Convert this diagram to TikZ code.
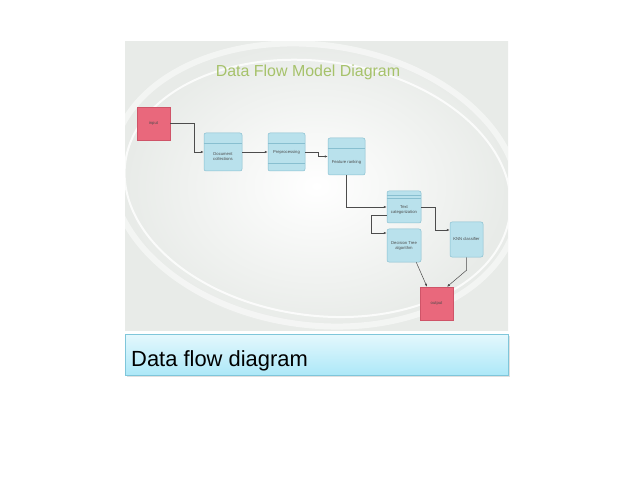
\documentclass[tikz,border=0pt]{standalone}
\usepackage{fontspec}
\setmainfont{Liberation Sans}
\usetikzlibrary{arrows.meta,shadows,calc}
\definecolor{slidegray}{HTML}{E8EBE8}
\definecolor{boxfill}{HTML}{B9E1EC}
\definecolor{boxedge}{HTML}{88BFD0}
\definecolor{iofill}{HTML}{E9687C}
\definecolor{ioedge}{HTML}{CF5468}
\definecolor{titlec}{HTML}{A6C26A}
\definecolor{captop}{HTML}{E4F8FD}
\definecolor{capbot}{HTML}{ADE8F8}
\definecolor{capedge}{HTML}{7FC6DA}
\tikzset{
  procbox/.style={draw=boxedge, fill=boxfill, rounded corners=2bp, line width=0.5bp,
    font=\fontsize{4.2}{5}\selectfont, text=black!70, align=center, inner sep=0pt},
  iobox/.style={draw=ioedge, fill=iofill, line width=0.4bp, minimum size=33bp,
    font=\fontsize{4.2}{5}\selectfont, text=black!70,
    drop shadow={shadow xshift=1bp, shadow yshift=-1.2bp, opacity=0.35}},
  boxtext/.style={font=\fontsize{4.2}{5}\selectfont, text=black!70, align=center},
  headline/.style={boxedge, line width=0.5bp},
  flow/.style={draw=black!70, line width=0.5bp, -{Latex[length=3bp,width=2.4bp]}},
}
\begin{document}
\begin{tikzpicture}[x=1bp, y=-1bp]
  \useasboundingbox (0,0) rectangle (638,478);
  \fill[white] (0,0) rectangle (638,478);
  \shade[inner color=white, outer color=slidegray] (125,42) rectangle (508,330);
  \begin{scope}
    \clip (125,42) rectangle (508,330);
    \draw[white, line width=6bp, opacity=0.5, rotate around={-8:(315,185)}] (315,185) ellipse (205 and 140);
    \draw[white, line width=2bp, opacity=0.8, rotate around={-8:(315,185)}] (318,188) ellipse (194 and 127);
  \end{scope}
  \node[font=\fontsize{16}{19}\selectfont, text=titlec] (title) at (308,72) {Data Flow Model Diagram};

  \node[iobox] (input) at (153.5,123.5) {input};
  \node[procbox, minimum width=38bp, minimum height=38bp,
    label={[boxtext, yshift=-5bp]center:Document\\collections}] (doc) at (223,152) {};
  \node[procbox, minimum width=37bp, minimum height=38bp] (prep) at (286.5,152) {Preprocessing};
  \node[procbox, minimum width=37bp, minimum height=37bp,
    label={[boxtext, yshift=-5.5bp]center:Feature ranking}] (feat) at (346.5,156.5) {};
  \node[procbox, minimum width=34bp, minimum height=32bp,
    label={[boxtext, yshift=-3bp]center:Text\\categorization}] (tcat) at (404,207) {};
  \node[procbox, minimum width=34bp, minimum height=33bp] (dtree) at (404,245.5) {Decision Tree\\algorithm};
  \node[procbox, minimum width=33bp, minimum height=35bp] (knn) at (466.5,239.5) {KNN classifier};
  \node[iobox] (out) at (436.5,303.5) {output};

  \draw[headline] (doc.west |- 0,143) -- (doc.east |- 0,143);
  \draw[headline] (prep.west |- 0,143) -- (prep.east |- 0,143);
  \draw[headline] (prep.west |- 0,163) -- (prep.east |- 0,163);
  \draw[headline] (feat.west |- 0,148) -- (feat.east |- 0,148);
  \draw[headline] (tcat.west |- 0,195) -- (tcat.east |- 0,195);
  \draw[headline] (tcat.west |- 0,198.5) -- (tcat.east |- 0,198.5);

  \draw[flow] (input.east) -- ++(24,0) |- (doc.west);
  \draw[flow] (doc.east) -- (prep.west);
  \draw[flow] (prep.east) -- ++(13,0) |- (feat.west);
  \draw[flow] (feat.south) |- (tcat.west);
  \draw[flow] ([yshift=-8bp]tcat.west) -- ++(-16,0) |- ([yshift=12.5bp]dtree.west);
  \draw[flow] (tcat.east) -- ++(14,0) |- ([yshift=9.5bp]knn.west);
  \draw[flow] ([xshift=-5bp]dtree.south east) -- ([xshift=-9.5bp]out.north);
  \draw[flow] (knn.south) -- ++(0,13) -- ([xshift=10.5bp]out.north);

  \fill[black, opacity=0.12] (126.5,336) rectangle (509.5,376.5);
  \shade[top color=captop, bottom color=capbot] (125,334) rectangle (508,375);
  \draw[capedge, line width=0.6bp] (125,334) rectangle (508,375);
  \node[anchor=base west, inner sep=0pt, font=\fontsize{22}{26}\selectfont] (caption) at (131,366) {Data flow diagram};
\end{tikzpicture}
\end{document}
